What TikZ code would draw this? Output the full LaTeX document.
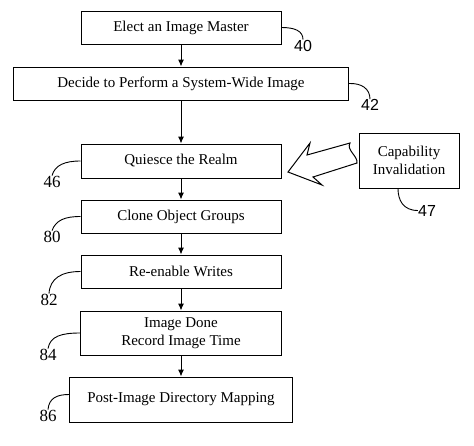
\documentclass[tikz,border=0pt]{standalone}
\usepackage{fontspec}
\setmainfont{Liberation Serif}
\newfontfamily\labsans{Liberation Sans}
\usetikzlibrary{arrows.meta}
\begin{document}
\begin{tikzpicture}[x=1pt,y=-1pt,
  stepbox/.style={draw,line width=1pt,inner sep=0pt,align=center,
    font=\fontsize{15}{18}\selectfont},
  flow/.style={line width=1pt,-{Latex[length=7pt,width=6pt]}},
  leader/.style={line width=0.9pt},
  lab/.style={inner sep=0pt,font=\fontsize{17}{18}\selectfont},
  labs/.style={inner sep=0pt,font=\labsans\fontsize{16}{18}\selectfont}]
\useasboundingbox (0,0) rectangle (474,445);
\node[stepbox,minimum width=200pt,minimum height=33pt] (b1) at (181,27.5) {Elect an Image Master};
\node[stepbox,minimum width=335pt,minimum height=33pt] (b2) at (181,83.5) {Decide to Perform a System-Wide Image};
\node[stepbox,minimum width=200pt,minimum height=34pt] (b3) at (181,161) {Quiesce the Realm};
\node[stepbox,minimum width=200pt,minimum height=33pt] (b4) at (181,216.5) {Clone Object Groups};
\node[stepbox,minimum width=200pt,minimum height=33pt] (b5) at (181,271.5) {Re-enable Writes};
\node[stepbox,minimum width=201pt,minimum height=44pt] (b6) at (181,333) {Image Done\\Record Image Time};
\node[stepbox,minimum width=223pt,minimum height=45pt] (b7) at (181,399.5) {Post-Image Directory Mapping};
\node[stepbox,minimum width=100pt,minimum height=55pt] (cap) at (409,160.5) {Capability\\Invalidation};

\draw[flow] (b1) -- (b2);
\draw[flow] (b2) -- (b3);
\draw[flow] (b3) -- (b4);
\draw[flow] (b4) -- (b5);
\draw[flow] (b5) -- (b6);
\draw[flow] (b6) -- (b7);

% block arrow
\draw[line width=1pt,fill=white,line join=miter]
  (288,172) -- (310,143) -- (307,155) -- (350,143)
  .. controls (346,150) and (358,156) .. (357,163)
  -- (313,177) -- (322,185) -- cycle;

% labels
\node[labs] (l40) at (303,45.5) {40};
\node[labs] (l42) at (370,105) {42};
\node[lab] (l46) at (52,181.5) {46};
\node[lab] (l80) at (52,236.5) {80};
\node[lab] (l82) at (49,299.5) {82};
\node[lab] (l84) at (48,354.5) {84};
\node[lab] (l86) at (48,415.5) {86};
\node[labs] (l47) at (427,210.5) {47};

\draw[leader] (b1.east) .. controls (295,27.5) and (303,31) .. (l40.north);
\draw[leader] (b2.east) .. controls (362,83) and (370,89) .. (l42.north);
\draw[leader] (b3.west) .. controls (65,161) and (55,165) .. (l46.north);
\draw[leader] (b4.west) .. controls (65,216.5) and (56,220) .. (l80.north);
\draw[leader] (b5.west) .. controls (62,271.5) and (50,278) .. (l82.north);
\draw[leader] (b6.west) .. controls (62,333) and (50,336) .. (l84.north);
\draw[leader] ([yshift=5pt]b7.west) .. controls (57,394.5) and (49,398) .. (l86.north);
\draw[leader] ([xshift=-11pt]cap.south) .. controls (398,200) and (403,210.5) .. (l47.west);
\end{tikzpicture}
\end{document}
